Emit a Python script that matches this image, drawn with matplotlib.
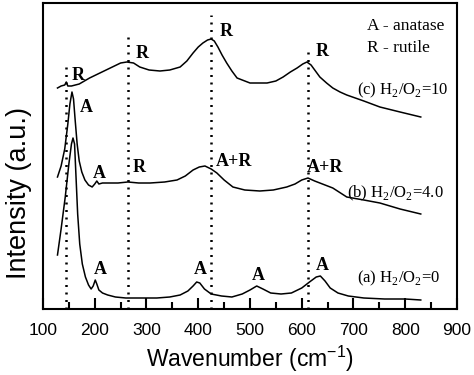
import matplotlib
matplotlib.use('Agg')
import matplotlib.pyplot as plt
from matplotlib.ticker import MultipleLocator

plt.rcParams['mathtext.fontset'] = 'custom'
plt.rcParams['mathtext.rm'] = 'Liberation Serif'
plt.rcParams['mathtext.sf'] = 'Liberation Sans'

# (a) H2/O2=0
wn_a = [128, 135, 143, 150, 155, 158, 161, 164, 167, 171, 176, 182, 188, 193, 197, 201, 204, 208,
        215, 225, 240, 260, 290, 320, 345, 365, 380, 390, 397, 403, 412, 425, 445, 465, 485, 500,
        513, 525, 540, 560, 580, 600, 615, 628, 636, 645, 655, 670, 690, 720, 760, 800, 830]
int_a = [54, 80, 112, 145, 165, 171, 165, 130, 95, 65, 45, 32, 24, 20, 23, 29, 25, 19,
         16, 14, 12, 11, 11, 11, 12, 14, 18, 23, 27, 26, 20, 15, 13, 12, 15, 19,
         23, 20, 16, 15, 16, 21, 27, 32, 33, 28, 21, 16, 13, 11, 10, 10, 9]

# (b) H2/O2=4.0
wn_b = [128, 135, 142, 148, 152, 156, 159, 162, 166, 170, 175, 181, 188, 195, 200, 204, 208, 215,
        230, 245, 264, 285, 307, 335, 359, 375, 390, 402, 413, 425, 436, 450, 467, 490, 519, 545,
        571, 587, 600, 612, 625, 640, 660, 687, 720, 751, 790, 830]
int_b = [132, 143, 160, 185, 205, 217, 210, 190, 165, 148, 137, 129, 124, 122, 125, 128, 125, 126,
         126, 126, 127, 126, 126, 127, 129, 133, 139, 142, 143, 140, 136, 129, 122, 119, 118, 119,
         122, 125, 129, 131, 128, 125, 121, 112, 109, 106, 100, 95]

# (c) H2/O2=10
wn_c = [128, 135, 142, 145, 148, 155, 170, 190, 210, 230, 250, 262, 275, 287, 305, 326, 345, 365,
        378, 390, 400, 409, 418, 425, 431, 438, 446, 455, 465, 475, 500, 533, 550, 564, 578, 591,
        602, 610, 618, 635, 648, 660, 674, 687, 720, 751, 790, 830]
int_c = [221, 223, 224, 227, 223, 223, 225, 231, 236, 241, 246, 247, 246, 242, 239, 238, 239, 242,
         248, 256, 262, 266, 269, 270, 268, 262, 254, 246, 238, 231, 226, 226, 228, 232, 237, 241,
         245, 247, 244, 232, 226, 221, 217, 214, 208, 202, 197, 192]

# dotted reference lines (position, top)
ref_wn = [145, 264, 425, 612]
ref_top = [246, 276, 294, 262]

# peak labels: (text, x, y)
peak_labels = [('R', 168, 234), ('R', 291, 256), ('R', 453, 278), ('R', 639, 257),
               ('A', 183, 202), ('A', 209, 136), ('R', 286, 141), ('A+R', 469, 147), ('A+R', 645, 142),
               ('A', 210, 39), ('A', 405, 39), ('A', 517, 33), ('A', 639, 44)]

curve_labels = [(r'(c) H$_2$/O$_2$=10', 707, 215),
                (r'(b) H$_2$/O$_2$=4.0', 687, 112),
                (r'(a) H$_2$/O$_2$=0', 707, 27)]

fig = plt.figure(figsize=(4.74, 3.75), dpi=100)
ax = fig.add_axes([0.0907, 0.176, 0.8734, 0.816])

for x, top in zip(ref_wn, ref_top):
    ax.plot([x, x], [0, top], color='black', lw=1.8, linestyle=(0, (0.8, 2.2)))

for wn, it in [(wn_a, int_a), (wn_b, int_b), (wn_c, int_c)]:
    ax.plot(wn, it, color='black', lw=1.1)

for t, x, y in peak_labels:
    ax.text(x, y, t, ha='center', va='center', fontsize=13, fontweight='bold',
            family='Liberation Serif')

for t, x, y in curve_labels:
    ax.text(x, y, t, ha='left', va='baseline', fontsize=12, family='Liberation Serif')

ax.text(726, 279, 'A - anatase', ha='left', va='baseline', fontsize=12.5, family='Liberation Serif')
ax.text(726, 257, 'R - rutile', ha='left', va='baseline', fontsize=12.5, family='Liberation Serif')

ax.set_xlim(100, 900)
ax.set_ylim(0, 306)
ax.xaxis.set_major_locator(MultipleLocator(100))
ax.xaxis.set_minor_locator(MultipleLocator(50))
ax.set_yticks([])
ax.tick_params(axis='x', which='major', direction='in', length=8, width=1.5, pad=10,
               labelsize=12.5, labelfontfamily='Liberation Sans')
ax.tick_params(axis='x', which='minor', direction='in', length=5, width=1.5)
for s in ax.spines.values():
    s.set_linewidth(1.5)

ax.set_xlabel(r'Wavenumber (cm$^{\mathsf{-1}}$)', fontsize=16.5, family='Liberation Sans', labelpad=4)
ax.set_ylabel('Intensity (a.u.)', fontsize=19.5, family='Liberation Sans')
ax.yaxis.set_label_coords(-0.026, 0.38)

fig.savefig('out.png', dpi=100)
